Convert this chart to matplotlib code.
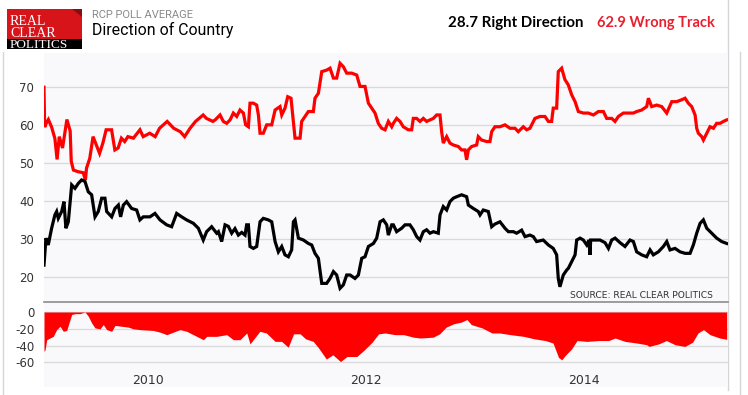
import numpy as np
import matplotlib.pyplot as plt
from matplotlib.patches import Rectangle, Polygon
from matplotlib.lines import Line2D

plt.rcParams['axes.unicode_minus'] = False

# Veriler (ondalik yil, yuzde)
dates_wrong = [2009.05, 2009.056, 2009.07, 2009.09, 2009.12, 2009.15, 2009.17, 2009.19, 2009.22, 2009.26,
               2009.29, 2009.30, 2009.32, 2009.36, 2009.41, 2009.43, 2009.44, 2009.47, 2009.50, 2009.53,
               2009.56, 2009.59, 2009.62, 2009.67, 2009.70, 2009.73, 2009.76, 2009.79, 2009.82, 2009.87,
               2009.93, 2009.96, 2010.02, 2010.07, 2010.11, 2010.18, 2010.24, 2010.30, 2010.34, 2010.39,
               2010.44, 2010.51, 2010.54, 2010.60, 2010.62, 2010.665, 2010.695, 2010.726, 2010.757, 2010.787,
               2010.818, 2010.848, 2010.879, 2010.90, 2010.925, 2010.94, 2010.971, 2011.001, 2011.017, 2011.032,
               2011.062, 2011.093, 2011.139, 2011.17, 2011.215, 2011.231, 2011.261, 2011.286, 2011.316, 2011.338,
               2011.353, 2011.399, 2011.414, 2011.445, 2011.475, 2011.521, 2011.536, 2011.567, 2011.598, 2011.643,
               2011.674, 2011.705, 2011.735, 2011.766, 2011.796, 2011.827, 2011.873, 2011.919, 2011.949, 2011.995,
               2012.026, 2012.056, 2012.087, 2012.117, 2012.148, 2012.179, 2012.209, 2012.24, 2012.255, 2012.285,
               2012.316, 2012.346, 2012.392, 2012.423, 2012.438, 2012.469, 2012.499, 2012.53, 2012.56, 2012.591,
               2012.622, 2012.652, 2012.683, 2012.698, 2012.713, 2012.744, 2012.774, 2012.805, 2012.851, 2012.881,
               2012.912, 2012.927, 2012.943, 2012.973, 2013.019, 2013.034, 2013.065, 2013.111, 2013.141, 2013.157,
               2013.187, 2013.233, 2013.279, 2013.325, 2013.371, 2013.401, 2013.447, 2013.478, 2013.508, 2013.554,
               2013.60, 2013.646, 2013.677, 2013.707, 2013.722, 2013.753, 2013.768, 2013.799, 2013.829, 2013.86,
               2013.891, 2013.922, 2013.952, 2013.998, 2014.044, 2014.09, 2014.136, 2014.182, 2014.212, 2014.258,
               2014.289, 2014.319, 2014.365, 2014.411, 2014.457, 2014.487, 2014.533, 2014.579, 2014.595, 2014.625,
               2014.671, 2014.717, 2014.763, 2014.809, 2014.854, 2014.90, 2014.931, 2014.961, 2014.992, 2015.023,
               2015.038, 2015.053, 2015.084, 2015.099, 2015.13, 2015.16, 2015.191, 2015.221, 2015.252, 2015.283,
               2015.313]
wrong_track = [70.0, 59.5, 60.5, 61.5, 59.5, 56.5, 51.0, 57.0, 54.0, 61.5,
               58.5, 50.5, 48.2, 47.8, 47.5, 45.6, 48.7, 51.3, 57.0, 54.8,
               52.6, 55.3, 58.8, 58.8, 53.5, 54.0, 56.6, 55.7, 57.0, 56.6,
               58.8, 57.0, 57.9, 57.0, 59.2, 61.0, 59.2, 58.3, 57.0, 59.2,
               61.0, 62.7, 61.8, 61.0, 61.4, 62.7, 61.0, 60.5, 61.4, 63.2,
               62.3, 64.0, 63.2, 60.1, 59.6, 65.8, 65.8, 65.3, 62.7, 57.9,
               57.9, 60.1, 60.1, 64.0, 64.9, 62.7, 64.5, 67.5, 67.1, 61.0,
               56.6, 56.6, 61.0, 62.3, 63.6, 63.6, 67.1, 68.4, 74.1, 74.5,
               75.0, 72.4, 72.4, 76.3, 75.4, 73.7, 73.7, 73.2, 70.2, 70.2,
               65.8, 64.5, 63.2, 60.5, 59.2, 58.8, 61.0, 59.6, 60.5, 61.8,
               61.0, 59.6, 58.8, 58.8, 61.8, 61.8, 61.0, 61.8, 61.0, 61.4,
               61.8, 62.7, 62.7, 58.3, 55.3, 57.0, 55.3, 54.8, 54.4, 53.5,
               53.5, 50.9, 53.5, 54.4, 54.8, 57.0, 56.1, 55.7, 55.7, 58.3,
               59.6, 59.6, 60.1, 59.2, 59.2, 58.3, 59.6, 58.8, 59.2, 61.8,
               62.3, 62.3, 61.0, 61.0, 64.5, 64.5, 74.1, 75.0, 72.0, 70.6,
               68.0, 66.2, 63.6, 63.2, 63.2, 62.7, 63.6, 63.6, 61.8, 61.8,
               61.0, 62.3, 63.2, 63.2, 63.2, 63.6, 64.0, 64.9, 67.1, 64.9,
               65.3, 64.9, 63.2, 66.2, 66.2, 66.7, 67.1, 65.8, 64.9, 62.7,
               59.2, 57.9, 57.0, 56.1, 57.9, 59.6, 59.2, 60.5, 60.5, 61.0,
               61.4]

dates_right = [2009.05, 2009.068, 2009.089, 2009.12, 2009.15, 2009.166, 2009.181, 2009.212, 2009.233, 2009.251,
               2009.273, 2009.304, 2009.334, 2009.365, 2009.395, 2009.426, 2009.456, 2009.487, 2009.518, 2009.548,
               2009.579, 2009.609, 2009.625, 2009.671, 2009.701, 2009.732, 2009.753, 2009.778, 2009.808, 2009.854,
               2009.90, 2009.93, 2009.961, 2010.022, 2010.068, 2010.114, 2010.175, 2010.221, 2010.267, 2010.313,
               2010.358, 2010.42, 2010.466, 2010.511, 2010.542, 2010.588, 2010.634, 2010.65, 2010.68, 2010.711,
               2010.741, 2010.772, 2010.802, 2010.833, 2010.864, 2010.894, 2010.909, 2010.925, 2010.94, 2010.971,
               2011.001, 2011.032, 2011.062, 2011.108, 2011.139, 2011.17, 2011.2, 2011.231, 2011.261, 2011.292,
               2011.322, 2011.338, 2011.353, 2011.384, 2011.43, 2011.475, 2011.506, 2011.536, 2011.567, 2011.598,
               2011.643, 2011.674, 2011.705, 2011.735, 2011.766, 2011.796, 2011.827, 2011.858, 2011.903, 2011.934,
               2011.965, 2011.995, 2012.026, 2012.072, 2012.102, 2012.133, 2012.163, 2012.194, 2012.209, 2012.24,
               2012.255, 2012.285, 2012.331, 2012.362, 2012.407, 2012.438, 2012.469, 2012.499, 2012.53, 2012.56,
               2012.591, 2012.622, 2012.667, 2012.683, 2012.713, 2012.744, 2012.774, 2012.805, 2012.836, 2012.881,
               2012.927, 2012.943, 2012.989, 2013.034, 2013.05, 2013.08, 2013.126, 2013.157, 2013.187, 2013.233,
               2013.279, 2013.31, 2013.356, 2013.386, 2013.432, 2013.463, 2013.508, 2013.539, 2013.569, 2013.63,
               2013.677, 2013.722, 2013.753, 2013.768, 2013.783, 2013.814, 2013.845, 2013.861, 2013.891, 2013.922,
               2013.937, 2013.968, 2013.998, 2014.029, 2014.05, 2014.059, 2014.065, 2014.105, 2014.151, 2014.197,
               2014.228, 2014.258, 2014.289, 2014.335, 2014.38, 2014.426, 2014.457, 2014.487, 2014.533, 2014.579,
               2014.61, 2014.64, 2014.686, 2014.732, 2014.763, 2014.793, 2014.839, 2014.885, 2014.931, 2014.977,
               2015.007, 2015.038, 2015.069, 2015.099, 2015.13, 2015.176, 2015.221, 2015.267, 2015.313]
right_direction = [23.2, 30.3, 28.5, 32.9, 36.4, 37.3, 35.5, 37.3, 39.9, 32.9,
                   34.6, 44.3, 43.4, 44.7, 45.6, 45.2, 42.5, 41.7, 35.9, 37.3,
                   40.8, 40.8, 37.3, 35.9, 38.1, 39.0, 35.9, 39.0, 39.9, 38.1,
                   37.7, 35.1, 35.9, 35.9, 36.8, 35.1, 33.8, 33.3, 36.8, 35.9,
                   35.1, 34.2, 32.9, 29.8, 32.0, 33.3, 31.6, 32.0, 29.4, 33.8,
                   33.4, 31.6, 32.8, 31.1, 31.8, 31.1, 33.8, 33.8, 28.1, 27.6,
                   28.1, 34.6, 35.5, 35.1, 34.6, 29.4, 26.7, 28.1, 25.9, 25.4,
                   27.2, 34.6, 35.1, 30.3, 29.8, 28.9, 28.5, 26.3, 25.0, 18.4,
                   18.4, 19.7, 21.5, 20.6, 17.1, 18.0, 20.6, 20.6, 19.7, 20.6,
                   25.0, 25.4, 28.1, 28.9, 30.3, 34.6, 35.1, 33.8, 31.1, 33.8,
                   33.8, 32.0, 32.9, 33.8, 33.8, 32.5, 30.7, 29.8, 32.0, 32.5,
                   31.6, 32.0, 31.6, 36.4, 38.6, 37.7, 39.9, 40.8, 41.2, 41.7,
                   41.2, 39.0, 38.1, 37.3, 36.4, 37.7, 37.3, 33.3, 34.0, 34.6,
                   32.9, 32.0, 32.0, 31.6, 32.4, 30.7, 31.1, 30.7, 29.4, 29.8,
                   28.5, 27.6, 25.9, 19.7, 17.5, 20.6, 21.9, 22.4, 24.1, 25.9,
                   29.8, 30.3, 29.8, 28.5, 29.8, 25.9, 29.8, 29.8, 29.8, 29.1,
                   27.6, 29.8, 30.3, 29.1, 28.1, 29.8, 29.4, 26.7, 25.9, 25.4,
                   27.2, 25.9, 26.7, 28.1, 29.4, 27.2, 27.6, 26.7, 26.3, 26.3,
                   28.5, 31.6, 34.2, 35.1, 32.9, 31.6, 30.3, 29.4, 28.9]

# Alt panel: fark (Right - Wrong)
dates_spread = [2009.05, 2009.06, 2009.075, 2009.135, 2009.166, 2009.197, 2009.227, 2009.258, 2009.289, 2009.304,
                2009.334, 2009.38, 2009.426, 2009.456, 2009.487, 2009.518, 2009.564, 2009.594, 2009.625, 2009.671,
                2009.701, 2009.763, 2009.823, 2009.869, 2009.93, 2010.053, 2010.114, 2010.176, 2010.236, 2010.298,
                2010.359, 2010.42, 2010.512, 2010.543, 2010.634, 2010.726, 2010.787, 2010.848, 2010.91, 2010.94,
                2011.03, 2011.09, 2011.17, 2011.23, 2011.29, 2011.34, 2011.40, 2011.45, 2011.52, 2011.57,
                2011.64, 2011.70, 2011.77, 2011.83, 2011.92, 2011.99, 2012.06, 2012.12, 2012.18, 2012.27,
                2012.35, 2012.44, 2012.50, 2012.62, 2012.68, 2012.74, 2012.81, 2012.88, 2012.93, 2012.97,
                2013.07, 2013.16, 2013.23, 2013.33, 2013.45, 2013.55, 2013.65, 2013.72, 2013.77, 2013.80,
                2013.83, 2013.86, 2013.89, 2013.94, 2014.03, 2014.14, 2014.23, 2014.29, 2014.38, 2014.49,
                2014.58, 2014.60, 2014.69, 2014.76, 2014.84, 2014.93, 2015.0, 2015.05, 2015.10, 2015.16,
                2015.25, 2015.313]
spread = [-47, -45, -33, -29, -21, -17, -23, -22, -9, -3,
          -2, -2, 0, -5, -13, -19, -20, -15, -21, -23,
          -16, -17, -18, -20, -21, -22, -24, -27, -24, -21,
          -23, -27, -33, -29, -29, -27, -33, -33, -25, -38,
          -23, -25, -35, -35, -42, -26, -26, -32, -35, -43,
          -56, -51, -59, -53, -53, -45, -36, -26, -25, -27,
          -27, -30, -31, -30, -26, -18, -14, -12, -9, -15,
          -19, -25, -25, -27, -29, -32, -34, -37, -54, -57,
          -52, -48, -44, -34, -35, -34, -34, -31, -35, -37,
          -39, -41, -38, -34, -39, -41, -36, -25, -21, -27,
          -31, -32.5]

year_ticks = [2010, 2012, 2014]
main_ticks = [20, 30, 40, 50, 60, 70]
spread_ticks = [0, -20, -40, -60]

W, H = 748, 395


def fx(x):
    return x / W


def fy(y):
    return 1 - y / H


fig = plt.figure(figsize=(W / 100, H / 100), dpi=100)
fig.patch.set_facecolor('white')

# acik renkli grafik zemini
fig.patches.append(Rectangle((fx(44), fy(387)), fx(728) - fx(44), fy(53) - fy(387),
                             transform=fig.transFigure, facecolor='#f9f9fc', edgecolor='none', zorder=-10))
# sayfa kenar cizgileri
for x0, y0, y1 in [(3, 52, 395), (728, 0, 390), (740, 52, 395)]:
    fig.lines.append(Line2D([fx(x0), fx(x0)], [fy(y1), fy(y0)], transform=fig.transFigure,
                            color='#d6d6d6', lw=1, zorder=-10))

# ana grafik
ax = fig.add_axes([fx(44), fy(302), fx(728) - fx(44), fy(53) - fy(302)])
ax.patch.set_alpha(0)
ax.plot(dates_wrong, wrong_track, color='#ff0000', lw=2.3, solid_joinstyle='miter', zorder=3)
ax.plot(dates_right, right_direction, color='black', lw=2.3, solid_joinstyle='miter', zorder=3)
ax.set_xlim(2009.05, 2015.325)
ax.set_ylim(13.5, 79.0)
ax.set_yticks(main_ticks)
ax.set_xticks([])
ax.grid(axis='y', color='#d9d9d9', lw=0.9)
ax.tick_params(axis='y', length=0, pad=7, labelsize=8.5, labelcolor='#333333')
for s in ['top', 'left', 'right']:
    ax.spines[s].set_visible(False)
ax.spines['bottom'].set_color('#8c8c8c')
ax.spines['bottom'].set_linewidth(1.2)
ax.text(0.978, 0.01, 'SOURCE: REAL CLEAR POLITICS', transform=ax.transAxes, ha='right', va='bottom',
        fontsize=6.6, color='#333333')

# alt panel: fark
ax2 = fig.add_axes([fx(44), fy(366), fx(728) - fx(44), fy(303) - fy(366)])
ax2.patch.set_alpha(0)
ax2.fill_between(dates_spread, spread, 0, color='#ff0000', lw=0, zorder=3)
ax2.set_xlim(2009.05, 2015.325)
ax2.set_ylim(-64.3, 10.7)
ax2.set_yticks(spread_ticks)
ax2.set_xticks(year_ticks)
ax2.set_xticklabels([str(y) for y in year_ticks])
ax2.grid(axis='y', color='#d9d9d9', lw=0.9)
ax2.tick_params(axis='y', length=0, pad=7, labelsize=8.5, labelcolor='#333333')
ax2.tick_params(axis='x', length=0, pad=6, labelsize=9, labelcolor='#333333')
for s in ax2.spines.values():
    s.set_visible(False)

# logo
fig.patches.append(Rectangle((fx(7), fy(39)), fx(82) - fx(7), fy(9) - fy(39), transform=fig.transFigure,
                             facecolor='#d7141a', edgecolor='none'))
fig.patches.append(Polygon([(fx(72), fy(9)), (fx(82), fy(9)), (fx(82), fy(17))], transform=fig.transFigure,
                           facecolor='#8a0c10', edgecolor='none'))
fig.patches.append(Rectangle((fx(7), fy(49)), fx(82) - fx(7), fy(39) - fy(49), transform=fig.transFigure,
                             facecolor='black', edgecolor='none'))
fig.text(fx(10), fy(25), 'REAL', color='white', family='Liberation Serif', fontsize=10, va='baseline')
fig.text(fx(10), fy(37), 'CLEAR', color='white', family='Liberation Serif', fontsize=10, va='baseline')
fig.text(fx(9.5), fy(48), 'POLITICS', color='white', family='Liberation Serif', fontsize=9.5, va='baseline')

# basliklar
fig.text(fx(92), fy(14.5), 'RCP POLL AVERAGE', color='#8a8a8a', family='Roboto', fontsize=8, va='center')
fig.text(fx(92), fy(29.5), 'Direction of Country', color='black', family='Roboto', fontsize=11.4, va='center')
fig.text(fx(448), fy(22.5), '28.7 Right Direction', color='black', family='Lato', weight='bold',
         fontsize=10.8, va='center')
fig.text(fx(597), fy(22.5), '62.9 Wrong Track', color='#e8202f', family='Lato', weight='bold',
         fontsize=10.5, va='center')

plt.savefig('out.png', dpi=100, facecolor='white')
